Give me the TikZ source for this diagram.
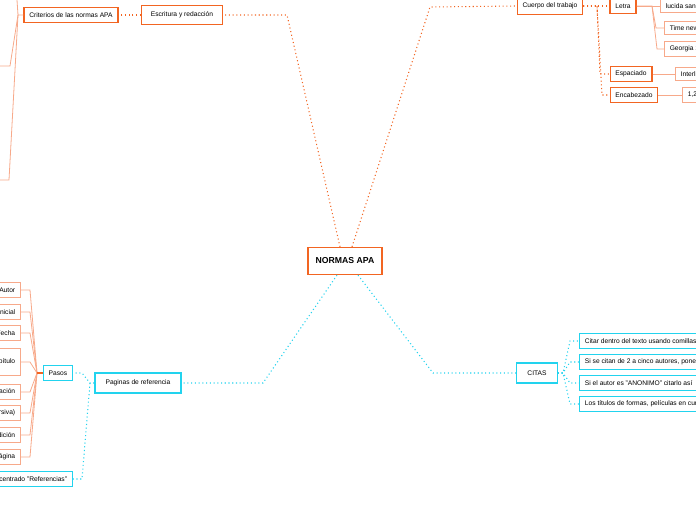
\documentclass[tikz,border=0pt]{standalone}
\usepackage{fontspec}
\setmainfont{Liberation Sans}
\definecolor{org}{HTML}{F26522}
\definecolor{lorg}{HTML}{F7A98A}
\definecolor{cy}{HTML}{22D3EE}
\tikzset{
 main/.style={draw=org,line width=1.2pt,fill=white,font=\fontsize{6.5}{7}\selectfont\bfseries,inner xsep=6pt,minimum height=20pt},
 ob/.style={draw=org,line width=0.9pt,fill=white,font=\fontsize{5}{6}\selectfont,inner xsep=4pt,minimum height=11pt},
 lb/.style={draw=lorg,line width=0.7pt,fill=white,font=\fontsize{5}{6}\selectfont,inner xsep=4pt,minimum height=10pt},
 cb/.style={draw=cy,line width=0.9pt,fill=white,font=\fontsize{5}{6}\selectfont,inner xsep=4pt,minimum height=11pt},
 od/.style={draw=org,dotted,line width=0.8pt},
 cd/.style={draw=cy,dotted,line width=0.8pt},
 ol/.style={draw=lorg,line width=0.6pt},
}
\begin{document}
\begin{tikzpicture}[x=0.75pt,y=-0.75pt]
\useasboundingbox (0,0) rectangle (696,520);
\clip (0,0) rectangle (696,520);
\node[main] (root) at (345,261) {NORMAS APA};
% top-left
\node[ob,minimum height=14pt,inner xsep=7pt] (esc) at (182,15) {Escritura y redacción};
\node[ob] (cri) at (71,15) {Criterios de las normas APA};
\coordinate (a1) at (0,66); \coordinate (a2) at (0,180); \coordinate (a0) at (17,0);
\draw[od] (root.north)++(-5,0) -- (287,15) -- (esc.east);
\draw[od] (esc.west) -- (cri.east);
\draw[ol] (cri.west) -- (18,15) -- (a0);
\draw[ol] (18,15) -- (10,66) -- (a1);
\draw[ol] (18,15) -- (9,180) -- (a2);
% top-right
\node[ob,minimum height=13pt] (cue) at (550,6) {Cuerpo del trabajo};
\node[ob] (let) at (623,6) {Letra};
\node[ob] (esp) at (631,74) {Espaciado};
\node[ob] (enc) at (634,95) {Encabezado};
\node[lb,anchor=west] (l1) at (660,6) {lucida sans};
\node[lb,anchor=west] (l2) at (664,28) {Time new Roman};
\node[lb,anchor=west] (l3) at (664,49) {Georgia 11};
\node[lb,anchor=west] (e1) at (675,74) {Interlineado};
\node[lb,anchor=west] (n1) at (682,95) {1,2};
\draw[od] (root.north)++(7,0) -- (430,7) -- (cue.west);
\draw[od] (cue.east) -- (let.west);
\draw[od] (cue.east) -- (597,6) -- (600,74) -- (esp.west);
\draw[od] (597,6) -- (602,95) -- (enc.west);
\draw[ol] (let.east) -- (l1.west);
\draw[ol] (let.east) -- (652,6) -- (656,28) -- (l2.west);
\draw[ol] (652,6) -- (657,49) -- (l3.west);
\draw[ol] (esp.east) -- (e1.west);
\draw[ol] (enc.east) -- (n1.west);
% CITAS
\node[cb,minimum height=15pt,inner xsep=8pt] (cit) at (537,373) {CITAS};
\node[cb,anchor=west] (c1) at (579,341) {Citar dentro del texto usando comillas};
\node[cb,anchor=west] (c2) at (579,362) {Si se citan de 2 a cinco autores, poner};
\node[cb,anchor=west] (c3) at (579,383) {Si el autor es "ANONIMO" citarlo así};
\node[cb,anchor=west] (c4) at (579,404) {Los títulos de formas, películas en cursiva};
\draw[cd] (root.south)++(13,0) -- (433,373) -- (cit.west);
\foreach \c in {c1,c2,c3,c4} \draw[cd] (cit.east) -- (563,373) -- (570,0|-\c.west) -- (\c.west);
% Paginas
\node[cb,minimum height=15pt,inner xsep=8pt] (pag) at (138,383) {Paginas de referencia};
\node[cb] (pas) at (58,373) {Pasos};
\node[cb,anchor=east] (ref) at (73,479) {Título centrado "Referencias"};
\draw[cd] (root.south)++(-8,0) -- (263,383) -- (pag.east);
\draw[cd] (pag.west) -- (90,383) -- (82,373) -- (pas.east);
\draw[cd] (90,383) -- (82,479) -- (ref.east);
\foreach \t/\y/\n/\h in {Autor/290/p1/11,Inicial/312/p2/11,Fecha/333/p3/11,Título del capítulo/362/p4/20,Lugar de publicación/392/p5/11,Título (en cursiva)/413/p6/11,Edición/435/p7/11,Página/457/p8/11}
 {\node[lb,anchor=east,minimum height=\h pt] (\n) at (21,\y) {\t};
  \draw[ol] (pas.west) -- (37,373) -- (30,\y) -- (\n.east);}
\draw[draw=org,line width=1pt] (pas.west) -- (37,373);
\end{tikzpicture}
\end{document}
